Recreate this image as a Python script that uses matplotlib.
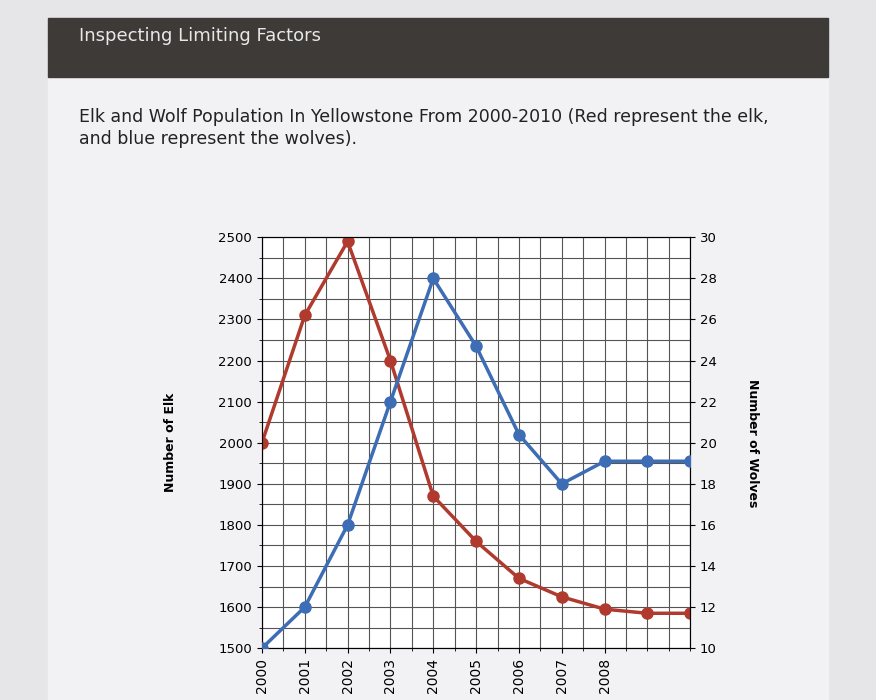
import matplotlib.pyplot as plt
import numpy as np

years = [2000, 2001, 2002, 2003, 2004, 2005, 2006, 2007, 2008, 2009, 2010]
elk = [2000, 2310, 2490, 2200, 1870, 1760, 1670, 1625, 1595, 1585, 1585]
wolves = [10, 12, 16, 22, 28, 24.7, 20.4, 18, 19.1, 19.1, 19.1]
year_labels = ['2000', '2001', '2002', '2003', '2004', '2005', '2006', '2007', '2008']

fig = plt.figure(figsize=(8.76, 7.0), dpi=100)
fig.patch.set_facecolor('#e6e5e8')

# page card + header bar, behind the axes
fig.patches.append(plt.Rectangle((0.055, 0.0), 0.89, 0.93, transform=fig.transFigure,
                                 color='#f2f1f3', zorder=-2))
fig.patches.append(plt.Rectangle((0.055, 0.89), 0.89, 0.085, transform=fig.transFigure,
                                 color='#3e3a38', zorder=-1))
fig.text(0.09, 0.948, 'Inspecting Limiting Factors', color='#e8e8e8', fontsize=13, va='center')
fig.text(0.09, 0.833, 'Elk and Wolf Population In Yellowstone From 2000-2010 (Red represent the elk,',
         fontsize=12.5, color='#222222', va='center')
fig.text(0.09, 0.802, 'and blue represent the wolves).', fontsize=12.5, color='#222222', va='center')

ax = fig.add_axes([0.299, 0.074, 0.489, 0.587])
ax.set_facecolor('white')
ax.plot(years, elk, color='#b03a2e', lw=2.5, marker='o', ms=8, zorder=3)
ax.set_xlim(2000, 2010)
ax.set_ylim(1500, 2500)
ax.set_yticks(np.arange(1500, 2501, 100))
ax.set_yticks(np.arange(1500, 2501, 50), minor=True)
ax.set_xticks(range(2000, 2009))
ax.set_xticklabels(year_labels, rotation=90, fontsize=10)
ax.set_xticks(np.arange(2000, 2010.01, 0.5), minor=True)
ax.grid(which='both', color='#555555', lw=0.8)
ax.tick_params(axis='y', labelsize=9.5)
ax.set_ylabel('Number of Elk', fontsize=9, fontweight='bold', labelpad=30)
for s in ax.spines.values():
    s.set_color('#333333')

ax2 = ax.twinx()
ax2.plot(years, wolves, color='#3d6db5', lw=2.5, marker='o', ms=8, zorder=3)
ax2.set_ylim(10, 30)
ax2.set_yticks(range(10, 31, 2))
ax2.tick_params(axis='y', labelsize=9.5)
ax2.set_ylabel('Number of Wolves', fontsize=9, fontweight='bold', rotation=270, labelpad=30)

fig.savefig('out.png', dpi=100, facecolor=fig.get_facecolor())
